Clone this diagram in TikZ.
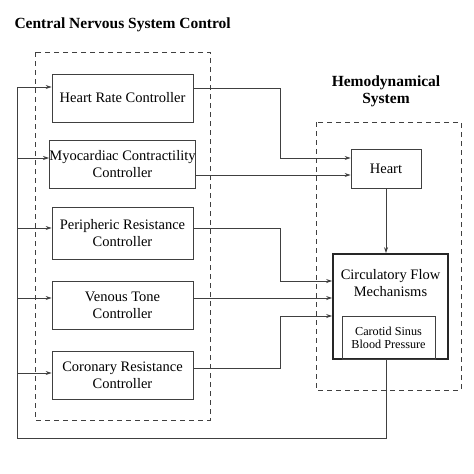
\documentclass[tikz,border=0pt]{standalone}
\usepackage{fontspec}
\setmainfont{Liberation Serif}
\usetikzlibrary{positioning,arrows.meta}
\tikzset{ctrl node/.style={rectangle,draw=black!75,line width=0.8pt,minimum width=141,minimum height=48,inner sep=0pt,align=center,font=\fontsize{14.5}{17}\selectfont},
         title node/.style={align=center,font=\fontsize{15.5}{17}\selectfont\bfseries},
         dash box/.style={draw=black!75,line width=0.8pt,dash pattern=on 5pt off 4pt},
         wire/.style={draw=black!75,line width=0.8pt},
         arrow/.style={wire,-{Stealth[length=6pt,width=4pt]}}}

\begin{document}
\begin{tikzpicture}[x=1pt,y=-1pt]
            \useasboundingbox (0,0) rectangle (474,474);

            % titles
            \node[title node,anchor=west] (cnstitle) at (11,25) {Central Nervous System Control};
            \node[title node] (hdtitle) at (386,91.5) {Hemodynamical\\System};

            % dashed groups
            \draw[dash box] (35,52) rectangle (210,420);
            \draw[dash box] (316,122) rectangle (461,390);

            % controllers
            \node[ctrl node] (hr) at (122.5,98) {Heart Rate Controller};
            \node[ctrl node] (mc) at (122.5,164) {Myocardiac Contractility\\Controller};
            \node[ctrl node,minimum height=52] (pr) at (122.5,233) {Peripheric Resistance\\Controller};
            \node[ctrl node] (vt) at (122.5,305) {Venous Tone\\Controller};
            \node[ctrl node] (cr) at (122.5,375) {Coronary Resistance\\Controller};

            % hemodynamical system
            \node[ctrl node,minimum width=70,minimum height=39] (heart) at (386,168.5) {Heart};
            \node[ctrl node,line width=1.6pt,draw=black!85,minimum width=115,minimum height=105] (cfm) at (390.5,306.5) {};
            \node[align=center,font=\fontsize{14.5}{17}\selectfont] (cfmtext) at (390.5,283) {Circulatory Flow\\Mechanisms};
            \node[ctrl node,minimum width=93,minimum height=43,font=\fontsize{12.2}{13}\selectfont] (cs) at (388.5,337.5) {Carotid Sinus\\Blood Pressure};

            % controller outputs
            \draw[arrow] ([yshift=10pt]hr.east) -- ++(87,0) |- ([yshift=10.5pt]heart.west);
            \draw[arrow] ([yshift=-11pt]mc.east) -- ([yshift=-11pt]mc.east -| heart.west);
            \draw[arrow] ([yshift=5pt]pr.east) -- ++(87,0) |- ([yshift=25.5pt]cfm.west);
            \draw[arrow] ([yshift=7pt]vt.east) -- ([yshift=7pt]vt.east -| cfm.west);
            \draw[arrow] ([yshift=7pt]cr.east) -- ++(87,0) |- ([yshift=-9.5pt]cfm.west);
            \draw[arrow] (heart.south) -- (heart.south |- cfm.north);

            % feedback
            \coordinate (bus) at (17,438);
            \coordinate (hr in) at ([yshift=11pt]hr.west);
            \coordinate (mc in) at ([yshift=6pt]mc.west);
            \coordinate (pr in) at ([yshift=5pt]pr.west);
            \coordinate (vt in) at ([yshift=7pt]vt.west);
            \coordinate (cr in) at ([yshift=2pt]cr.west);
            \draw[wire] (heart.south |- cfm.south) |- (bus) -- (bus |- hr in);
            \draw[arrow] (bus |- hr in) -- (hr in);
            \draw[arrow] (bus |- mc in) -- (mc in);
            \draw[arrow] (bus |- pr in) -- (pr in);
            \draw[arrow] (bus |- vt in) -- (vt in);
            \draw[arrow] (bus |- cr in) -- (cr in);
        \end{tikzpicture}
\end{document}
